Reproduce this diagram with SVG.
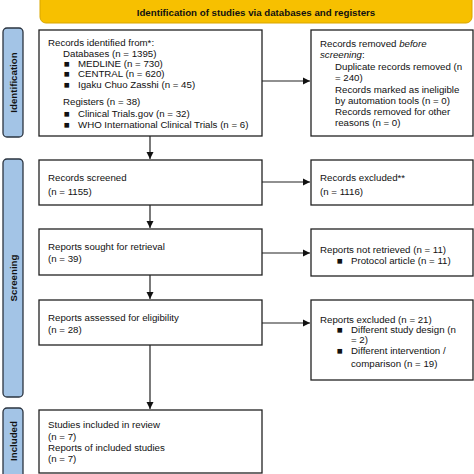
<svg xmlns="http://www.w3.org/2000/svg" width="474" height="474" viewBox="0 0 474 474">
<defs>
<marker id="ah" markerWidth="8" markerHeight="8" refX="7" refY="4" orient="auto" markerUnits="userSpaceOnUse">
<path d="M0,0.5 L7,4 L0,7.5 Z" fill="#111"/>
</marker>
</defs>
<style>
text{font-family:"Liberation Sans",Arial,sans-serif;font-size:9.7px;fill:#111}
.b{font-size:9.7px}
.box{fill:#fff;stroke:#222;stroke-width:1.3}
.side{fill:#a3c4e6;stroke:#2b3440;stroke-width:1.3}
.sidet{font-weight:bold;font-size:9.7px;text-anchor:middle}
.hdr{fill:#f7c000;stroke:#d9a600;stroke-width:1}
.conn{stroke:#222;stroke-width:1.2;fill:none;marker-end:url(#ah)}
</style>
<rect width="474" height="474" fill="#fff"/>

<g id="header">
<rect class="hdr" x="40" y="-6" width="432" height="29" rx="6"/>
<text x="256" y="16" text-anchor="middle" font-weight="bold" font-size="10px">Identification of studies via databases and registers</text>
</g>

<g id="side-identification">
<rect class="side" x="3" y="28" width="20" height="109" rx="4"/>
<text class="sidet" transform="translate(16.5,82.5) rotate(-90)">Identification</text>
</g>
<g id="side-screening">
<rect class="side" x="3" y="159" width="20" height="238" rx="4"/>
<text class="sidet" transform="translate(16.5,278) rotate(-90)">Screening</text>
</g>
<g id="side-included">
<rect class="side" x="3" y="408" width="20" height="72" rx="4"/>
<text class="sidet" transform="translate(16.5,441) rotate(-90)">Included</text>
</g>

<g id="records-identified">
<rect class="box" x="39" y="30" width="223" height="106"/>
<text x="48" y="46">Records identified from*:</text>
<text x="63" y="57">Databases (n = 1395)</text>
<text class="b" x="64" y="67">■</text><text x="78" y="67">MEDLINE (n = 730)</text>
<text class="b" x="64" y="77">■</text><text x="78" y="77">CENTRAL (n = 620)</text>
<text class="b" x="64" y="88">■</text><text x="78" y="88">Igaku Chuo Zasshi (n = 45)</text>
<text x="63" y="105">Registers (n = 38)</text>
<text class="b" x="64" y="117">■</text><text x="78" y="117">Clinical Trials.gov (n = 32)</text>
<text class="b" x="64" y="128">■</text><text x="78" y="128">WHO International Clinical Trials (n = 6)</text>
</g>

<g id="records-removed">
<rect class="box" x="311" y="30" width="162" height="106"/>
<text x="320" y="47">Records removed <tspan font-style="italic">before</tspan></text>
<text x="320" y="58"><tspan font-style="italic">screening</tspan>:</text>
<text x="335" y="70">Duplicate records removed (n</text>
<text x="335" y="81">= 240)</text>
<text x="335" y="93">Records marked as ineligible</text>
<text x="335" y="104">by automation tools (n = 0)</text>
<text x="335" y="115">Records removed for other</text>
<text x="335" y="126">reasons (n = 0)</text>
</g>

<g id="records-screened">
<rect class="box" x="39" y="160" width="223" height="45"/>
<text x="48" y="181">Records screened</text>
<text x="48" y="195">(n = 1155)</text>
</g>

<g id="records-excluded">
<rect class="box" x="311" y="160" width="162" height="45"/>
<text x="320" y="181">Records excluded**</text>
<text x="320" y="195">(n = 1116)</text>
</g>

<g id="reports-sought">
<rect class="box" x="39" y="229" width="223" height="46"/>
<text x="48" y="250">Reports sought for retrieval</text>
<text x="48" y="262">(n = 39)</text>
</g>

<g id="reports-not-retrieved">
<rect class="box" x="311" y="229" width="162" height="47"/>
<text x="320" y="253">Reports not retrieved (n = 11)</text>
<text class="b" x="337" y="264">■</text><text x="351" y="264">Protocol article (n = 11)</text>
</g>

<g id="reports-assessed">
<rect class="box" x="39" y="300" width="223" height="45"/>
<text x="48" y="321">Reports assessed for eligibility</text>
<text x="48" y="333">(n = 28)</text>
</g>

<g id="reports-excluded">
<rect class="box" x="311" y="300" width="162" height="80"/>
<text x="320" y="323">Reports excluded (n = 21)</text>
<text class="b" x="337" y="333">■</text><text x="351" y="333">Different study design (n</text>
<text x="351" y="343">= 2)</text>
<text class="b" x="337" y="354">■</text><text x="351" y="354">Different intervention /</text>
<text x="351" y="367">comparison (n = 19)</text>
</g>

<g id="studies-included">
<rect class="box" x="39" y="410" width="223" height="63"/>
<text x="48" y="428">Studies included in review</text>
<text x="48" y="440">(n = 7)</text>
<text x="48" y="451">Reports of included studies</text>
<text x="48" y="462">(n = 7)</text>
</g>

<g id="connectors">
<line class="conn" x1="262" y1="81" x2="310" y2="81"/>
<line class="conn" x1="262" y1="182" x2="310" y2="182"/>
<line class="conn" x1="262" y1="253" x2="310" y2="253"/>
<line class="conn" x1="262" y1="323" x2="310" y2="323"/>
<line class="conn" x1="150" y1="136" x2="150" y2="159"/>
<line class="conn" x1="150" y1="205" x2="150" y2="228"/>
<line class="conn" x1="150" y1="275" x2="150" y2="299"/>
<line class="conn" x1="150" y1="345" x2="150" y2="409"/>
</g>
</svg>
